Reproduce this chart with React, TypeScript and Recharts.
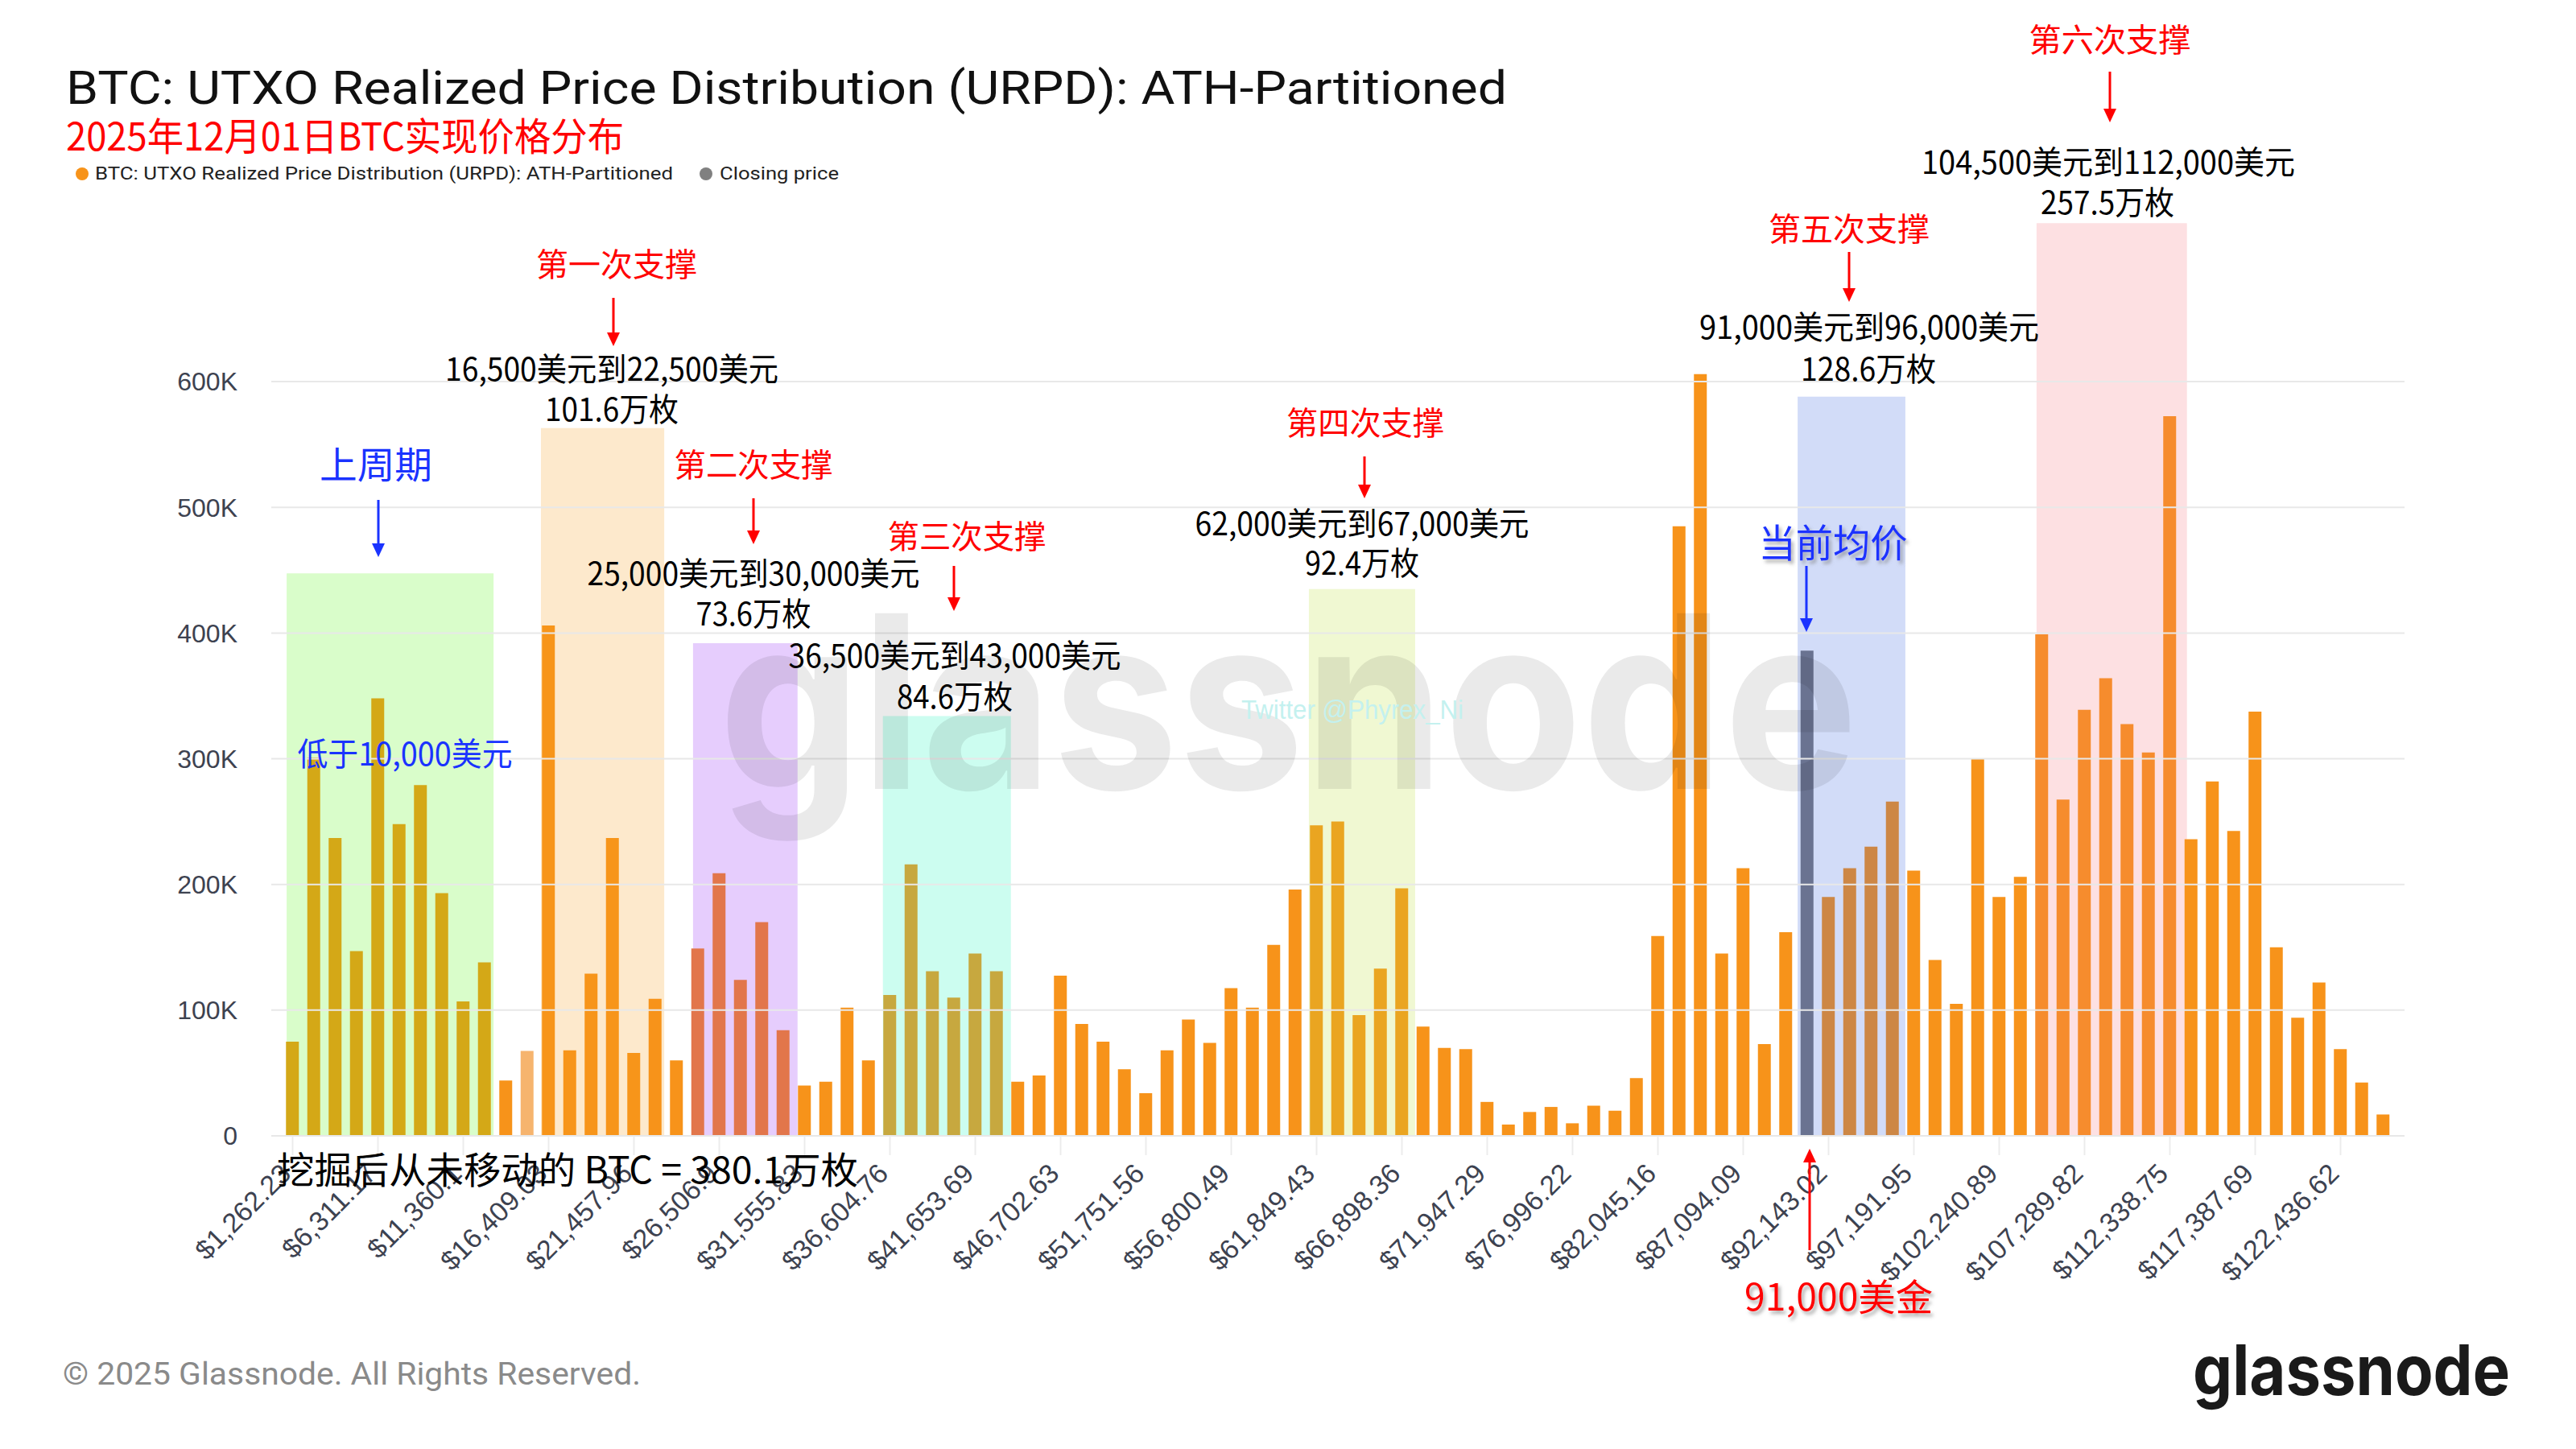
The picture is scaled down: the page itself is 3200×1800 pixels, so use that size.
import React from 'react';
import { BarChart, Bar, XAxis, YAxis, ReferenceLine, ReferenceArea, Cell } from 'recharts';

// URPD supply per price bucket (BTC), one bucket per ~1,262.23 USD
const urpdValues = [
  75000, 301000, 237000, 147000, 348000, 248000, 279000, 193000, 107000, 138000,
  44000, 67500, 406000, 68000, 129000, 237000, 66000, 109000, 60000, 149000,
  209000, 124000, 170000, 84000, 40000, 43000, 102000, 60000, 112000, 216000,
  131000, 110000, 145000, 131000, 43000, 48000, 127500, 89000, 75000, 53000,
  34000, 68000, 92500, 74000, 117500, 102000, 152000, 196000, 247000, 250000,
  96000, 133000, 197000, 87000, 70000, 69000, 27000, 9000, 19000, 23000,
  10000, 24000, 20000, 46000, 159000, 485000, 606000, 145000, 213000, 73000,
  162000, 386000, 190000, 213000, 230000, 266000, 211000, 140000, 105000, 300000,
  190000, 206000, 399000, 267500, 339000, 364000, 327500, 305000, 572500, 236000,
  282000, 242500, 337500, 150000, 94000, 122000, 69000, 42500, 17000,
];

// bucket index categories
const bucketIndex = urpdValues.map((_, i) => i);

// x tick labels (every 4th bucket)
const tickLabels = [
  '$1,262.23', '$6,311.17', '$11,360.1', '$16,409.03', '$21,457.96', '$26,506.9',
  '$31,555.83', '$36,604.76', '$41,653.69', '$46,702.63', '$51,751.56', '$56,800.49',
  '$61,849.43', '$66,898.36', '$71,947.29', '$76,996.22', '$82,045.16', '$87,094.09',
  '$92,143.02', '$97,191.95', '$102,240.89', '$107,289.82', '$112,338.75', '$117,387.69',
  '$122,436.62',
];
const tickPositions = tickLabels.map((_, j) => j * 4);

const yTicks = [0, 100000, 200000, 300000, 400000, 500000, 600000];

// highlighted zones
const zoneX1 = [-0.28, 11.64, 18.77, 27.67, 47.64, 70.55, 81.75];
const zoneX2 = [9.42, 17.42, 23.67, 33.67, 52.62, 75.6, 88.8];
const zoneTop = [447500, 563000, 392000, 334000, 435000, 588000, 726000];
const zoneColor = ['#52f50c', '#f69b17', '#8f1af6', '#17f6bb', '#bbdf32', '#3260df', '#f6727b'];
// bucket ranges covered by each zone and the tinted bar colour seen inside it
const zoneFirstBar = [0, 12, 19, 28, 48, 71, 82];
const zoneLastBar = [9, 16, 23, 33, 52, 75, 88];
const zoneBarColor = ['#d4a817', '#f7951a', '#e2764b', '#c7a83f', '#eaa521', '#cd8745', '#f68c2d'];

const closingPriceIndex = 71;
const dottedIndex = 11;

const data = bucketIndex.map((i) => ({ idx: i, value: urpdValues[i] }));

const barColor = (i: number) => {
  if (i === closingPriceIndex) return '#6a7391';
  if (i === dottedIndex) return '#f6b46e';
  for (let k = 0; k < zoneFirstBar.length; k++) {
    if (i >= zoneFirstBar[k] && i <= zoneLastBar[k]) return zoneBarColor[k];
  }
  return '#f7931a';
};

const XTick = (props: any) => {
  const { x, y, payload } = props;
  const label = tickLabels[Math.round(payload.value / 4)];
  return (
    <text
      x={x}
      y={y}
      transform={`rotate(-45 ${x} ${y})`}
      textAnchor="end"
      fontSize={34}
      fill="#3d4250"
      fontFamily="'Liberation Sans', Arial, sans-serif"
    >
      {label}
    </text>
  );
};

const CJK = "'Noto Sans CJK SC', 'Noto Sans', sans-serif";

const T = (p: {
  x: number; y: number; w: number; size: number; fill: string; text: string;
  anchor?: 'start' | 'middle' | 'end'; weight?: number; family?: string; filter?: string;
  baseline?: boolean; opacity?: number;
}) => (
  <text
    x={p.x}
    y={p.y}
    textLength={p.w}
    lengthAdjust="spacingAndGlyphs"
    fontSize={p.size}
    fill={p.fill}
    textAnchor={p.anchor || 'middle'}
    dominantBaseline={p.baseline ? 'alphabetic' : 'central'}
    fontWeight={p.weight || 400}
    fontFamily={p.family || CJK}
    filter={p.filter}
    opacity={p.opacity}
  >
    {p.text}
  </text>
);

const Arrow = ({ x, y1, y2, color }: { x: number; y1: number; y2: number; color: string }) => {
  const dir = y2 > y1 ? 1 : -1;
  const head = 17;
  return (
    <g>
      <line x1={x} y1={y1} x2={x} y2={y2 - dir * head} stroke={color} strokeWidth={3} />
      <polygon points={`${x - 8},${y2 - dir * head} ${x + 8},${y2 - dir * head} ${x},${y2}`} fill={color} />
    </g>
  );
};

const RED = '#ff0000';
const BLUE = '#1a33ff';

export default function App() {
  return (
    <div style={{ position: 'absolute', left: 0, top: 0, width: 3200, height: 1800, background: '#fff' }}>
      <BarChart
        width={3200}
        height={1800}
        data={data}
        margin={{ top: 193, right: 213, bottom: 239, left: 0 }}
      >
        {yTicks.map((v) => (
          <ReferenceLine key={`g${v}`} y={v} stroke="#e8e8e8" strokeWidth={2} />
        ))}
        <XAxis
          dataKey="idx"
          type="number"
          domain={[-1, 99]}
          ticks={tickPositions}
          interval={0}
          tick={<XTick />}
          tickSize={24}
          tickMargin={25}
          tickLine={{ stroke: '#ececec', strokeWidth: 2 }}
          axisLine={false}
          height={150}
        />
        <YAxis
          type="number"
          domain={[0, 780000]}
          ticks={yTicks}
          tickFormatter={(v: number) => (v === 0 ? '0' : `${v / 1000}K`)}
          axisLine={false}
          tickLine={false}
          tickSize={0}
          tickMargin={42}
          width={337}
          tick={{ fontSize: 32, fill: '#3d4250', fontFamily: "'Liberation Sans', Arial, sans-serif" }}
        />
        {zoneX1.map((x1, k) => (
          <ReferenceArea
            key={k}
            x1={x1}
            x2={zoneX2[k]}
            y1={0}
            y2={zoneTop[k]}
            fill={zoneColor[k]}
            fillOpacity={0.22}
            stroke="none"
            ifOverflow="visible"
          />
        ))}
        <Bar dataKey="value" barSize={16} isAnimationActive={false}>
          {data.map((d) => (
            <Cell key={d.idx} fill={barColor(d.idx)} />
          ))}
        </Bar>
      </BarChart>

      <svg
        width={3200}
        height={1800}
        style={{ position: 'absolute', left: 0, top: 0, pointerEvents: 'none' }}
      >
        <defs>
          <filter id="shadow" x="-20%" y="-20%" width="140%" height="160%">
            <feDropShadow dx="3" dy="4" stdDeviation="2" floodColor="#777" floodOpacity="0.6" />
          </filter>
        </defs>

        {/* watermark */}
        <T x={893} y={980} w={1415} size={300} weight={700} fill="#000" opacity={0.08}
          text="glassnode" anchor="start" baseline family="Inter, 'Open Sans', sans-serif" />
        <T x={1542} y={881} w={276} size={34} fill="#c4f1ef" text="Twitter @Phyrex_Ni" anchor="start"
          family="'Liberation Sans', Arial, sans-serif" />

        {/* titles */}
        <T x={82} y={129} w={1790} size={57} fill="#111" anchor="start" baseline
          family="Roboto, 'Liberation Sans', sans-serif"
          text="BTC: UTXO Realized Price Distribution (URPD): ATH-Partitioned" />
        <T x={82} y={187} w={693} size={48} fill={RED} anchor="start" baseline text="2025年12月01日BTC实现价格分布" />

        {/* legend */}
        <circle cx={102} cy={216} r={8} fill="#f7931a" />
        <T x={118} y={223} w={718} size={22} fill="#222" anchor="start" baseline
          family="Roboto, 'Liberation Sans', sans-serif"
          text="BTC: UTXO Realized Price Distribution (URPD): ATH-Partitioned" />
        <circle cx={877} cy={216} r={8} fill="#808080" />
        <T x={894} y={223} w={148} size={22} fill="#222" anchor="start" baseline
          family="Roboto, 'Liberation Sans', sans-serif" text="Closing price" />

        {/* support 1 */}
        <T x={766} y={326} w={200} size={40} fill={RED} text="第一次支撑" />
        <Arrow x={762} y1={370} y2={430} color={RED} />
        <T x={760} y={456} w={414} size={40} fill="#000" text="16,500美元到22,500美元" />
        <T x={760} y={506} w={166} size={40} fill="#000" text="101.6万枚" />

        {/* previous cycle */}
        <T x={467} y={574} w={140} size={46} fill={BLUE} text="上周期" />
        <Arrow x={470} y1={621} y2={692} color={BLUE} />
        <T x={503} y={934} w={267} size={40} fill={BLUE} text="低于10,000美元" />

        {/* support 2 */}
        <T x={936} y={575} w={197} size={40} fill={RED} text="第二次支撑" />
        <Arrow x={936} y1={619} y2={676} color={RED} />
        <T x={936} y={710} w={413} size={40} fill="#000" text="25,000美元到30,000美元" />
        <T x={936} y={760} w={143} size={40} fill="#000" text="73.6万枚" />

        {/* support 3 */}
        <T x={1201} y={664} w={197} size={40} fill={RED} text="第三次支撑" />
        <Arrow x={1185} y1={703} y2={759} color={RED} />
        <T x={1186} y={812} w={413} size={40} fill="#000" text="36,500美元到43,000美元" />
        <T x={1186} y={863} w={144} size={40} fill="#000" text="84.6万枚" />

        {/* support 4 */}
        <T x={1696} y={523} w={196} size={40} fill={RED} text="第四次支撑" />
        <Arrow x={1695} y1={567} y2={619} color={RED} />
        <T x={1692} y={648} w={415} size={40} fill="#000" text="62,000美元到67,000美元" />
        <T x={1692} y={697} w={142} size={40} fill="#000" text="92.4万枚" />

        {/* support 5 */}
        <T x={2297} y={282} w={200} size={40} fill={RED} text="第五次支撑" />
        <Arrow x={2297} y1={313} y2={375} color={RED} />
        <T x={2322} y={404} w={422} size={40} fill="#000" text="91,000美元到96,000美元" />
        <T x={2321} y={456} w={168} size={40} fill="#000" text="128.6万枚" />

        {/* support 6 */}
        <T x={2621} y={47} w={201} size={40} fill={RED} text="第六次支撑" />
        <Arrow x={2621} y1={89} y2={152} color={RED} />
        <T x={2619} y={199} w={464} size={40} fill="#000" text="104,500美元到112,000美元" />
        <T x={2618} y={249} w={166} size={40} fill="#000" text="257.5万枚" />

        {/* current average */}
        <T x={2277} y={671} w={185} size={48} fill={BLUE} text="当前均价" filter="url(#shadow)" />
        <Arrow x={2244} y1={703} y2={785} color={BLUE} />

        {/* bottom notes */}
        <T x={705} y={1450} w={722} size={46} fill="#000" text="挖掘后从未移动的 BTC = 380.1万枚" />
        <Arrow x={2248} y1={1553} y2={1427} color={RED} />
        <T x={2284} y={1608} w={234} size={46} fill={RED} text="91,000美金" filter="url(#shadow)" />

        {/* footer */}
        <T x={78} y={1720} w={718} size={38} fill="#8a8a8a" anchor="start" baseline
          family="Roboto, 'Liberation Sans', sans-serif" text="© 2025 Glassnode. All Rights Reserved." />
        <T x={2724} y={1733} w={394} size={86} weight={700} fill="#1a1a1a" anchor="start" baseline
          family="Inter, 'Open Sans', sans-serif" text="glassnode" />
      </svg>
    </div>
  );
}
